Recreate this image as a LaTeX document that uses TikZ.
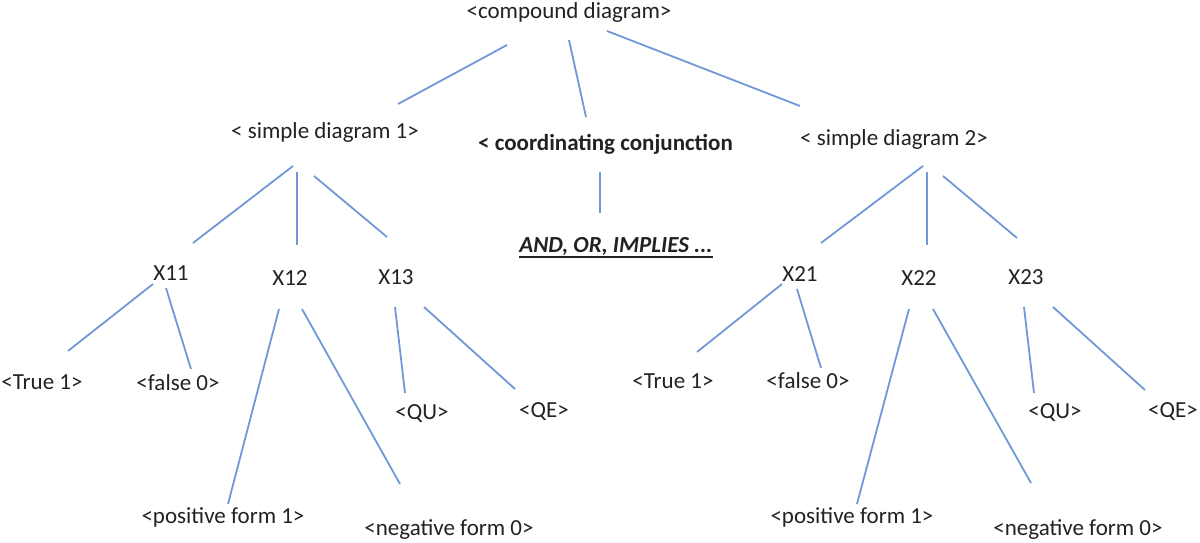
\documentclass[tikz,border=0pt]{standalone}
\usepackage{fontspec}
\setmainfont{Carlito}
\definecolor{linkblue}{RGB}{112,152,216}
\definecolor{txt}{HTML}{222222}
\begin{document}
\begin{tikzpicture}[x=1pt,y=-1pt,
  lbl/.style={anchor=base,inner sep=0pt,text=txt,font=\fontsize{23}{27}\selectfont},
  link/.style={draw=linkblue,line width=1.8pt}]
\useasboundingbox (0,0) rectangle (1200,543);
% nodes
\node[lbl] (cd) at (569,19) {<compound diagram>};
\node[lbl] (s1) at (325,138) {< simple diagram 1>};
\node[lbl,font=\fontsize{23}{27}\selectfont\bfseries] (cc) at (605.5,150) {< coordinating conjunction};
\node[lbl] (s2) at (894,145) {< simple diagram 2>};
\node[lbl,font=\fontsize{23}{27}\selectfont\bfseries\itshape] (and) at (616,252) {AND, OR, IMPLIES ...};
\node[lbl] (x11) at (171,280) {X11};
\node[lbl] (x12) at (290,285) {X12};
\node[lbl] (x13) at (396,284) {X13};
\node[lbl] (x21) at (800,281) {X21};
\node[lbl] (x22) at (919,285) {X22};
\node[lbl] (x23) at (1026,284) {X23};
\node[lbl] (t1) at (42,389) {<True 1>};
\node[lbl] (f1) at (178,390) {<false 0>};
\node[lbl] (t2) at (673,388) {<True 1>};
\node[lbl] (f2) at (808,388) {<false 0>};
\node[lbl] (qu1) at (422,419) {<QU>};
\node[lbl] (qe1) at (544,417) {<QE>};
\node[lbl] (qu2) at (1055,418) {<QU>};
\node[lbl] (qe2) at (1173,417) {<QE>};
\node[lbl] (p1) at (223,523) {<positive form 1>};
\node[lbl] (n1) at (449,535) {<negative form 0>};
\node[lbl] (p2) at (852,523) {<positive form 1>};
\node[lbl] (n2) at (1078,535) {<negative form 0>};
% underline of AND
\draw[txt,line width=1.6pt] ([yshift=-5pt]and.base west) -- ([yshift=-5pt]and.base east);
% connector end points
\coordinate (cdA) at (507,45);  \coordinate (s1T) at (398,104);
\coordinate (cdB) at (569,40);  \coordinate (ccT) at (586,117);
\coordinate (cdC) at (607,31);  \coordinate (s2T) at (800,106);
\coordinate (ccB) at (600,172); \coordinate (andT) at (600,213);
\coordinate (s1A) at (293,166); \coordinate (x11T) at (193,243);
\coordinate (s1B) at (297,172); \coordinate (x12T) at (297,245);
\coordinate (s1C) at (314,176); \coordinate (x13T) at (387,237);
\coordinate (s2A) at (923,166); \coordinate (x21T) at (821,243);
\coordinate (s2B) at (927,172); \coordinate (x22T) at (927,245);
\coordinate (s2C) at (943,176); \coordinate (x23T) at (1017,238);
\coordinate (x11A) at (153,284); \coordinate (t1T) at (68,351);
\coordinate (x11B) at (166,288); \coordinate (f1T) at (191,369);
\coordinate (x12A) at (279,309); \coordinate (p1T) at (228,504);
\coordinate (x12B) at (302,309); \coordinate (n1T) at (400,484);
\coordinate (x13A) at (395,307); \coordinate (qu1T) at (405,393);
\coordinate (x13B) at (424,307); \coordinate (qe1T) at (515,389);
\coordinate (x21A) at (782,284); \coordinate (t2T) at (697,352);
\coordinate (x21B) at (797,289); \coordinate (f2T) at (821,368);
\coordinate (x22A) at (909,309); \coordinate (p2T) at (857,504);
\coordinate (x22B) at (933,309); \coordinate (n2T) at (1031,483);
\coordinate (x23A) at (1024,307); \coordinate (qu2T) at (1034,393);
\coordinate (x23B) at (1053,307); \coordinate (qe2T) at (1145,390);
% connectors
\draw[link] (cdA) -- (s1T);
\draw[link] (cdB) -- (ccT);
\draw[link] (cdC) -- (s2T);
\draw[link] (ccB) -- (andT);
\draw[link] (s1A) -- (x11T);
\draw[link] (s1B) -- (x12T);
\draw[link] (s1C) -- (x13T);
\draw[link] (s2A) -- (x21T);
\draw[link] (s2B) -- (x22T);
\draw[link] (s2C) -- (x23T);
\draw[link] (x11A) -- (t1T);
\draw[link] (x11B) -- (f1T);
\draw[link] (x12A) -- (p1T);
\draw[link] (x12B) -- (n1T);
\draw[link] (x13A) -- (qu1T);
\draw[link] (x13B) -- (qe1T);
\draw[link] (x21A) -- (t2T);
\draw[link] (x21B) -- (f2T);
\draw[link] (x22A) -- (p2T);
\draw[link] (x22B) -- (n2T);
\draw[link] (x23A) -- (qu2T);
\draw[link] (x23B) -- (qe2T);
\end{tikzpicture}
\end{document}
